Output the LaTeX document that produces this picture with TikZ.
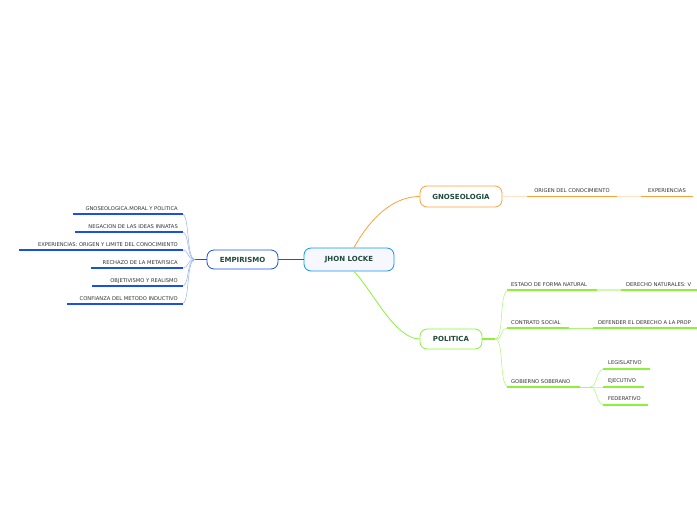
\documentclass[tikz,border=0pt]{standalone}
\usepackage{fontspec}
\setmainfont{DejaVu Sans}
\definecolor{bb}{HTML}{1A4FE8}
\definecolor{gg}{HTML}{8CF03C}
\definecolor{oo}{HTML}{F9A23A}
\definecolor{tt}{HTML}{1E4A3A}
\begin{document}
\begin{tikzpicture}[x=1pt,y=-1pt,
  main/.style={draw,rounded corners=7pt,line width=0.8pt,font=\fontsize{7}{8}\selectfont\bfseries,text=tt,inner sep=0pt},
  leaf/.style={font=\fontsize{5.2}{6}\selectfont,text=black!80,anchor=base,inner sep=0pt},
  bl/.style={bb,line width=1.2pt},
  blt/.style={bb!45,line width=0.5pt},
  og/.style={oo,line width=1.2pt},
  ogt/.style={oo!30,line width=1.5pt},
  gr/.style={gg,line width=1.2pt},
  grt/.style={gg!70,line width=0.5pt}]
\useasboundingbox (0,0) rectangle (697,520);
% main nodes
\node[main,draw=bb!60!cyan,fill=blue!3,minimum width=90pt,minimum height=23pt] (jl) at (349,259.5) {JHON LOCKE};
\node[main,draw=bb,minimum width=71pt,minimum height=19pt] (emp) at (242.5,259.5) {EMPIRISMO};
\node[main,draw=oo,minimum width=82pt,minimum height=21pt] (gno) at (461,196.5) {GNOSEOLOGIA};
\node[main,draw=gg,minimum width=62pt,minimum height=20pt] (pol) at (451,339) {POLITICA};
% center connectors
\draw[bb,line width=0.8pt] (jl.west) -- (emp.east);
\draw[oo,line width=0.8pt] (jl.north) ++(5,0) coordinate (g0) .. controls (372,215) and (395,196.5) .. (gno.west);
\draw[gg,line width=0.8pt] (jl.south) ++(5,0) coordinate (p0) .. controls (372,290) and (395,339) .. (pol.west);
% empirismo leaves
\coordinate (eh) at (195,259.5);
\draw[bl] (emp.west) -- (eh);
\foreach \y/\xl/\t in {214/73/{GNOSEOLOGICA.MORAL Y POLITICA},232/75/{NEGACION DE LAS IDEAS INNATAS},250/19/{EXPERIENCIAS: ORIGEN Y LIMITE DEL CONOCIMIENTO},268/91/{RECHAZO DE LA METAFISICA},286/92/{OBJETIVISMO Y REALISMO},304/67/{CONFIANZA DEL METODO INDUCTIVO}}{
  \draw[blt] (eh) .. controls (186,259.5) and (190,\y) .. (182,\y);
  \draw[bl] (\xl,\y) -- (183,\y);
  \node[leaf,anchor=base east] at (178,\y-4) {\t};
}
% gnoseologia
\draw[ogt] (gno.east) -- (527,196.5);
\draw[og] (527,196.5) -- (617,196.5);
\node[leaf] (ori) at (572,192.5) {ORIGEN DEL CONOCIMIENTO};
\draw[ogt] (617,196.5) -- (641,196.5);
\draw[og] (641,196.5) -- (693,196.5);
\node[leaf] (exp) at (667,192.5) {EXPERIENCIAS};
% politica
\coordinate (ph) at (495,339);
\draw[gr] (pol.east) -- (ph);
\foreach \y in {290,328,387}{
  \draw[grt] (ph) .. controls (505,339) and (498,\y) .. (509,\y);
}
\draw[gr] (507,290) -- (597,290);
\node[leaf,anchor=base west] at (511,286) {ESTADO DE FORMA NATURAL};
\draw[gg!40,line width=1.5pt] (597,290) -- (621,290);
\draw[gr] (621,290) -- (697,290);
\node[leaf,anchor=base west] at (626,286) {DERECHO NATURALES: V};
\draw[gr] (507,328) -- (569,328);
\node[leaf,anchor=base west] at (511,324) {CONTRATO SOCIAL};
\draw[grt] (569,328) -- (593,328);
\draw[gr] (593,328) -- (697,328);
\node[leaf,anchor=base west] at (598,324) {DEFENDER EL DERECHO A LA PROP};
\draw[gr] (507,387) -- (580,387);
\node[leaf,anchor=base west] at (511,383) {GOBIERNO SOBERANO};
\coordinate (gh) at (590,387);
\draw[grt] (580,387) -- (gh);
\foreach \y/\xr/\t in {369/650/LEGISLATIVO,387/644/EJECUTIVO,405/648/FEDERATIVO}{
  \draw[grt] (gh) .. controls (598,387) and (595,\y) .. (605,\y);
  \draw[gr] (603,\y) -- (\xr,\y);
  \node[leaf,anchor=base west] at (608,\y-5) {\t};
}
\end{tikzpicture}
\end{document}
